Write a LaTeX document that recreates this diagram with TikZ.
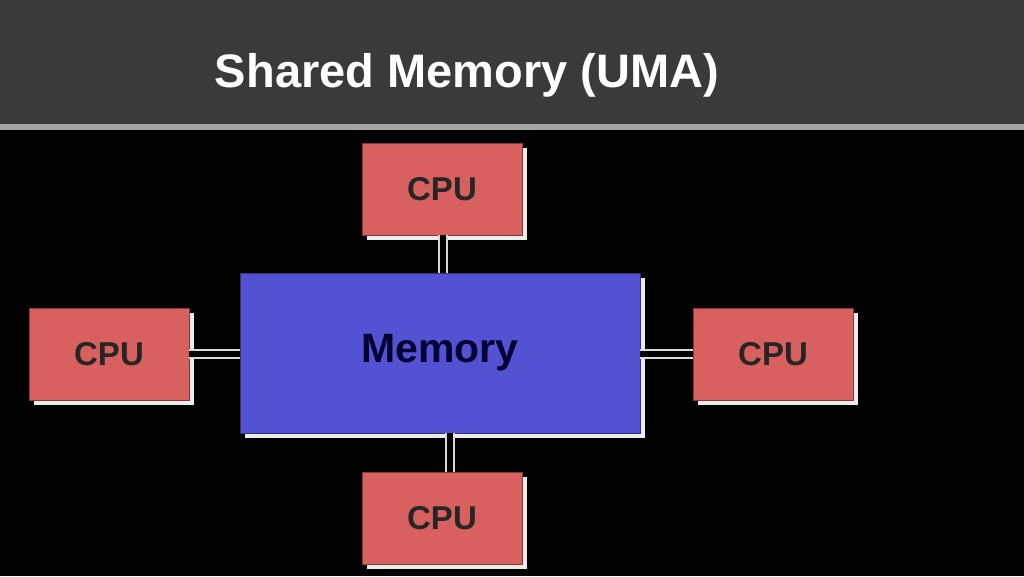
\documentclass[tikz,border=0pt]{standalone}
\usepackage{fontspec}
\setmainfont{Liberation Sans}
\usetikzlibrary{positioning,shadows}
\definecolor{cpured}{HTML}{D8605E}
\definecolor{memblue}{HTML}{5252D2}
\definecolor{band}{HTML}{3A3A3A}
\tikzset{
    cpubox/.style={draw=cpured!60!black, fill=cpured, minimum width=160pt, minimum height=92pt,
        font=\bfseries\fontsize{33}{33}\selectfont, text=black!85,
        drop shadow={shadow xshift=5pt, shadow yshift=-5pt, fill=white!85!gray, opacity=1}},
    membox/.style={draw=memblue!60!black, fill=memblue, minimum width=400pt, minimum height=160pt,
        font=\bfseries\fontsize{41}{41}\selectfont, text=black!80!blue,
        drop shadow={shadow xshift=5pt, shadow yshift=-5pt, fill=white!85!gray, opacity=1}},
    link/.style={line width=10pt, draw=white!70!gray},
    linkcore/.style={line width=6pt, draw=black}
}
\begin{document}
\begin{tikzpicture}[x=1pt,y=-1pt]
\useasboundingbox (0,0) rectangle (1024,576);
\fill[black] (0,0) rectangle (1024,576);
\fill[band] (0,0) rectangle (1024,128);
\fill[gray!70] (0,124) rectangle (1024,130);
\node[text=white, font=\bfseries\fontsize{47}{47}\selectfont] (title) at (467,75) {Shared Memory (UMA)};
% boxes
\node[membox] (mem) at (440,353) {Memory};
\node[cpubox] (top) at (442,189) {CPU};
\node[cpubox] (left) at (109,354) {CPU};
\node[cpubox] (right) at (773,354) {CPU};
\node[cpubox] (bottom) at (442,518) {CPU};
% links
\draw[link] (top.south -| 443,0) -- (mem.north -| 443,0);
\draw[linkcore] (top.south -| 443,0) -- (mem.north -| 443,0);
\draw[link] (left.east) -- (mem.west |- left.east);
\draw[linkcore] (left.east) -- (mem.west |- left.east);
\draw[link] (right.west) -- (mem.east |- right.west);
\draw[linkcore] (right.west) -- (mem.east |- right.west);
\draw[link] (mem.south -| 450,0) -- (bottom.north -| 450,0);
\draw[linkcore] (mem.south -| 450,0) -- (bottom.north -| 450,0);
\end{tikzpicture}
\end{document}
